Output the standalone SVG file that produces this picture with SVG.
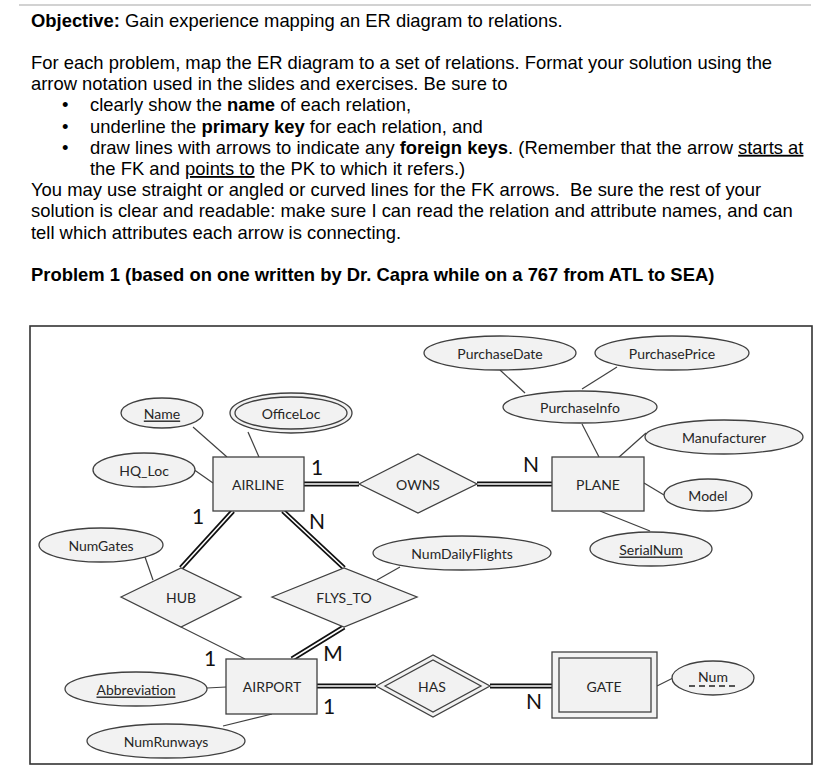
<svg xmlns="http://www.w3.org/2000/svg" width="837" height="781" viewBox="0 0 837 781">
<style>
.h{font-family:"Liberation Sans",Arial,sans-serif;font-size:18.4px;fill:#000}
.b{font-weight:bold}
.u{text-decoration:underline}
.ent{fill:#f2f2f2;stroke:#404040;stroke-width:1.3}
.ln{stroke:#404040;stroke-width:1.2;fill:none}
.dO{stroke:#111;stroke-width:5;fill:none}
.dI{stroke:#fff;stroke-width:1.6;fill:none}
.t{font-family:Lato,"Open Sans",sans-serif;font-size:14px;fill:#262626;text-anchor:middle;dominant-baseline:central}
.c{font-family:Lato,"Open Sans",sans-serif;font-size:21px;fill:#111;text-anchor:middle;dominant-baseline:central}
</style>
<rect width="837" height="781" fill="#fff"/>
<line x1="19" y1="5" x2="811" y2="5" stroke="#a6a6a6" stroke-width="1.2"/>
<g id="header">
<text class="h" x="31" y="26.6"><tspan class="b">Objective:</tspan> Gain experience mapping an ER diagram to relations.</text>
<text class="h" x="31" y="69">For each problem, map the ER diagram to a set of relations. Format your solution using the</text>
<text class="h" x="31" y="90.2">arrow notation used in the slides and exercises. Be sure to</text>
<text class="h" x="62" y="111.4">•</text>
<text class="h" x="90" y="111.4">clearly show the <tspan class="b">name</tspan> of each relation,</text>
<text class="h" x="62" y="132.6">•</text>
<text class="h" x="90" y="132.6">underline the <tspan class="b">primary key</tspan> for each relation, and</text>
<text class="h" x="62" y="153.8">•</text>
<text class="h" x="90" y="153.8">draw lines with arrows to indicate any <tspan class="b">foreign keys</tspan>. (Remember that the arrow <tspan class="u">starts at</tspan></text>
<text class="h" x="90" y="175">the FK and <tspan class="u">points to</tspan> the PK to which it refers.)</text>
<text class="h" x="31" y="196.2" xml:space="preserve">You may use straight or angled or curved lines for the FK arrows.  Be sure the rest of your</text>
<text class="h" x="31" y="217.4">solution is clear and readable: make sure I can read the relation and attribute names, and can</text>
<text class="h" x="31" y="238.6">tell which attributes each arrow is connecting.</text>
<text class="h b" x="31" y="281">Problem 1 (based on one written by Dr. Capra while on a 767 from ATL to SEA)</text>
</g>
<rect x="30" y="326" width="782" height="438" fill="none" stroke="#333" stroke-width="1.6"/>
<g id="connectors">
<line class="ln" x1="193" y1="427" x2="227" y2="457"/>
<line class="ln" x1="248" y1="432" x2="259" y2="457"/>
<line class="ln" x1="193" y1="469" x2="213" y2="483"/>
<line class="ln" x1="500" y1="370" x2="525" y2="393"/>
<line class="ln" x1="617" y1="367" x2="582" y2="389"/>
<line class="ln" x1="582" y1="424" x2="599" y2="457"/>
<line class="ln" x1="646" y1="433" x2="618" y2="458"/>
<line class="ln" x1="644" y1="483" x2="664" y2="495"/>
<line class="ln" x1="600" y1="511" x2="650" y2="531"/>
<line class="ln" x1="400" y1="567" x2="377" y2="580"/>
<line class="ln" x1="145" y1="557" x2="153" y2="580"/>
<line class="ln" x1="181" y1="627" x2="245" y2="659"/>
<line class="ln" x1="207" y1="688" x2="226" y2="687"/>
<line class="ln" x1="223" y1="726" x2="272" y2="714"/>
<line class="ln" x1="657" y1="686" x2="673" y2="678"/>
<g id="double-lines">
<path class="dO" d="M304 484H359M477 484H552M233 511L181 568M283 511L344 568M344 627L292 659M317 686H376M490 686H552"/>
<path class="dI" d="M304 484H359M477 484H552M233 511L181 568M283 511L344 568M344 627L292 659M317 686H376M490 686H552"/>
</g>
<text class="c" x="317" y="466">1</text>
<text class="c" x="531" y="463">N</text>
<text class="c" x="198" y="515">1</text>
<text class="c" x="317" y="520">N</text>
<text class="c" x="210" y="657">1</text>
<text class="c" x="333" y="652">M</text>
<text class="c" x="329" y="705">1</text>
<text class="c" x="534" y="700">N</text>
</g>
<g id="Name"><ellipse class="ent" cx="162" cy="413" rx="41" ry="15"/><text class="t u" x="162" y="413">Name</text></g>
<g id="OfficeLoc"><ellipse class="ent" cx="291" cy="413" rx="61" ry="20"/><ellipse class="ent" cx="291" cy="413" rx="56" ry="16"/><text class="t" x="291" y="413">OfficeLoc</text></g>
<g id="HQ_Loc"><ellipse class="ent" cx="144" cy="470" rx="51" ry="17"/><text class="t" x="144" y="470">HQ_Loc</text></g>
<g id="AIRLINE"><rect class="ent" x="213" y="457" width="91" height="54"/><text class="t" x="258" y="484">AIRLINE</text></g>
<g id="OWNS"><polygon class="ent" points="359,484 418,454 477,484 418,513"/><text class="t" x="418" y="484">OWNS</text></g>
<g id="PurchaseDate"><ellipse class="ent" cx="500" cy="353" rx="76" ry="17"/><text class="t" x="500" y="353">PurchaseDate</text></g>
<g id="PurchasePrice"><ellipse class="ent" cx="672" cy="353" rx="77" ry="17"/><text class="t" x="672" y="353">PurchasePrice</text></g>
<g id="PurchaseInfo"><ellipse class="ent" cx="580" cy="407" rx="77" ry="16"/><text class="t" x="580" y="407">PurchaseInfo</text></g>
<g id="Manufacturer"><ellipse class="ent" cx="724" cy="437" rx="79" ry="17"/><text class="t" x="724" y="437">Manufacturer</text></g>
<g id="PLANE"><rect class="ent" x="552" y="457" width="92" height="54"/><text class="t" x="598" y="484">PLANE</text></g>
<g id="Model"><ellipse class="ent" cx="708" cy="495" rx="44" ry="16"/><text class="t" x="708" y="495">Model</text></g>
<g id="SerialNum"><ellipse class="ent" cx="651" cy="549" rx="61" ry="17"/><text class="t u" x="651" y="549">SerialNum</text></g>
<g id="NumGates"><ellipse class="ent" cx="101" cy="545" rx="62" ry="17"/><text class="t" x="101" y="545">NumGates</text></g>
<g id="NumDailyFlights"><ellipse class="ent" cx="462" cy="553" rx="89" ry="17"/><text class="t" x="462" y="553">NumDailyFlights</text></g>
<g id="HUB"><polygon class="ent" points="121,597 181,568 241,597 181,627"/><text class="t" x="181" y="597">HUB</text></g>
<g id="FLYS_TO"><polygon class="ent" points="272,597 344,568 417,597 344,627"/><text class="t" x="344" y="597">FLYS_TO</text></g>
<g id="AIRPORT"><rect class="ent" x="226" y="659" width="91" height="55"/><text class="t" x="272" y="686">AIRPORT</text></g>
<g id="Abbreviation"><ellipse class="ent" cx="136" cy="689" rx="71" ry="17"/><text class="t u" x="136" y="689">Abbreviation</text></g>
<g id="NumRunways"><ellipse class="ent" cx="166" cy="741" rx="79" ry="17"/><text class="t" x="166" y="741">NumRunways</text></g>
<g id="HAS"><polygon class="ent" points="376,686 433,655 490,686 433,717"/><polygon class="ent" points="385,686 433,660 481,686 433,712"/><text class="t" x="432" y="686">HAS</text></g>
<g id="GATE"><rect class="ent" x="552" y="652" width="105" height="66"/><rect class="ent" x="559" y="658" width="92" height="54"/><text class="t" x="604" y="686">GATE</text></g>
<g id="Num"><ellipse class="ent" cx="713" cy="678" rx="41" ry="17"/><text class="t" x="713" y="676">Num</text><line x1="689" y1="686" x2="738" y2="686" stroke="#222" stroke-width="1.4" stroke-dasharray="6,4"/></g>
</svg>
